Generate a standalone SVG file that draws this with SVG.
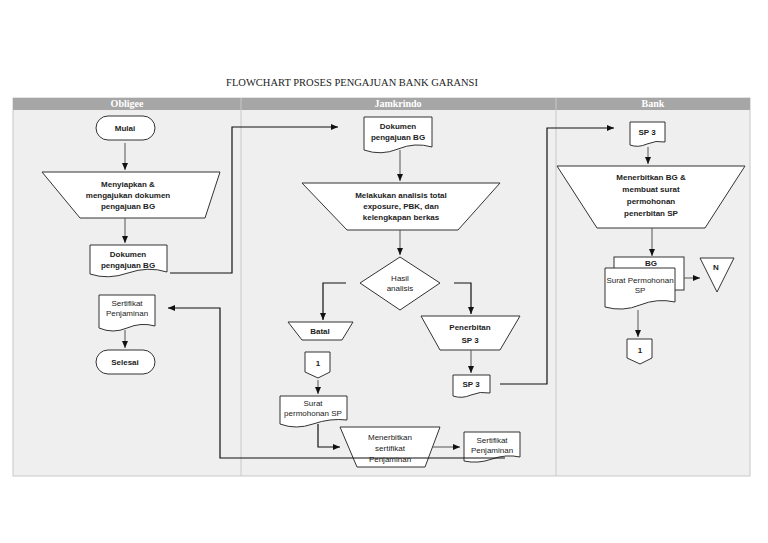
<svg xmlns="http://www.w3.org/2000/svg" width="768" height="543" viewBox="0 0 768 543">
<style>
.s{fill:#fff;stroke:#333;stroke-width:1}
.t{font-family:"Liberation Sans",Arial,sans-serif;font-size:8px;fill:#222;text-anchor:middle}
.b{font-weight:bold}
.h{font-family:"Liberation Serif",serif;font-size:10px;font-weight:bold;fill:#fff;text-anchor:middle}
.c{fill:none;stroke:#111;stroke-width:1.2}
.g{fill:none;stroke:#555;stroke-width:1}
</style>
<defs><marker id="a" markerWidth="8" markerHeight="8" refX="7" refY="4" orient="auto" markerUnits="userSpaceOnUse"><path d="M0,1L7,4L0,7z" fill="#111"/></marker></defs>
<rect width="768" height="543" fill="#fff"/>
<text x="352" y="86" font-family="Liberation Serif,serif" font-size="10.5" text-anchor="middle" fill="#222">FLOWCHART PROSES PENGAJUAN BANK GARANSI</text>
<rect x="13" y="98" width="737" height="378" fill="#efefef" stroke="#c8c8c8"/>
<rect x="13" y="98" width="737" height="12" fill="#a6a6a6"/>
<line x1="241" y1="98" x2="241" y2="476" stroke="#c8c8c8"/>
<line x1="556" y1="98" x2="556" y2="476" stroke="#c8c8c8"/>
<text class="h" x="127" y="107">Obligee</text>
<text class="h" x="398" y="107">Jamkrindo</text>
<text class="h" x="653" y="107">Bank</text>
<g id="mulai"><rect class="s" x="96" y="116" width="59" height="24" rx="12"/><text class="t b" x="125" y="131">Mulai</text></g>
<g id="menyiapkan"><path class="s" d="M42,172H220L205,218H80Z"/><text class="t b" x="128" y="187">Menyiapkan &amp;</text><text class="t b" x="128" y="198">mengajukan dokumen</text><text class="t b" x="128" y="209">pengajuan BG</text></g>
<g id="dok1"><path class="s" d="M90,245H167V272Q148,266 128,273T90,274Z"/><text class="t b" x="128" y="257">Dokumen</text><text class="t b" x="128" y="268">pengajuan BG</text></g>
<g id="sert1"><path class="s" d="M99,295H155V326Q141,322 127,328T99,328Z"/><text class="t" x="127" y="306" font-size="7">Sertifikat</text><text class="t" x="127" y="316" font-size="7">Penjaminan</text></g>
<g id="selesai"><rect class="s" x="96" y="350" width="59" height="24" rx="12"/><text class="t b" x="125" y="365">Selesai</text></g>
<g id="dok2"><path class="s" d="M364,117H432V147Q415,142 398,149T364,150Z"/><text class="t b" x="398" y="129">Dokumen</text><text class="t b" x="398" y="140">pengajuan BG</text></g>
<g id="analisis"><path class="s" d="M302,183H500L458,230H347Z"/><text class="t b" x="401" y="198">Melakukan analisis total</text><text class="t b" x="401" y="209">exposure, PBK, dan</text><text class="t b" x="401" y="220">kelengkapan berkas</text></g>
<g id="hasil"><path class="s" d="M360,283L400,257L440,283L400,310Z"/><text class="t" x="400" y="281" font-size="7">Hasil</text><text class="t" x="400" y="291" font-size="7">analisis</text></g>
<g id="batal"><path class="s" d="M288,322H353L342,340H302Z"/><text class="t b" x="320" y="334">Batal</text></g>
<g id="penerbitan"><path class="s" d="M421,316H520L500,350H440Z"/><text class="t b" x="470" y="330" font-size="9">Penerbitan</text><text class="t b" x="470" y="343" font-size="9">SP 3</text></g>
<g id="sp3a"><path class="s" d="M453,375H490V393Q480,391 471,395T453,396Z"/><text class="t b" x="471" y="387">SP 3</text></g>
<g id="c1a"><path class="s" d="M305,352H330V372L318,378L305,372Z"/><text class="t b" x="318" y="366">1</text></g>
<g id="surat"><path class="s" d="M280,396H347V420Q330,418 313,424T280,424Z"/><text class="t" x="313" y="406" font-size="7">Surat</text><text class="t" x="313" y="416" font-size="7">permohonan SP</text></g>
<g id="menerbitkan"><path class="s" d="M340,427H440L425,467H357Z"/><text class="t" x="390" y="440" font-size="7.5">Menerbitkan</text><text class="t" x="390" y="451" font-size="7.5">sertifikat</text><text class="t" x="390" y="462" font-size="7.5">Penjaminan</text></g>
<g id="sert2"><path class="s" d="M464,432H520V457Q506,454 492,459T464,461Z"/><text class="t" x="492" y="443" font-size="7">Sertifikat</text><text class="t" x="492" y="453" font-size="7">Penjaminan</text></g>
<g id="sp3b"><path class="s" d="M630,122H665V142Q656,140 647,144T630,145Z"/><text class="t b" x="647" y="135">SP 3</text></g>
<g id="bankproc"><path class="s" d="M557,166H745L705,228H597Z"/><text class="t b" x="651" y="180">Menerbitkan BG &amp;</text><text class="t b" x="651" y="192">membuat surat</text><text class="t b" x="651" y="204">permohonan</text><text class="t b" x="651" y="216">penerbitan SP</text></g>
<g id="bgdocs"><rect class="s" x="614" y="257" width="70" height="33"/><text class="t b" x="651" y="266">BG</text><path class="s" d="M605,268H675V302Q657,298 640,305T605,307Z"/><text class="t" x="640" y="283" font-size="6.5">Surat Permohonan</text><text class="t" x="640" y="293" font-size="6.5">SP</text></g>
<g id="n"><path class="s" d="M700,258H734L717,292Z"/><text class="t b" x="716" y="270">N</text></g>
<g id="c1b"><path class="s" d="M627,339H652V358L640,364L627,358Z"/><text class="t b" x="640" y="353">1</text></g>
<g id="connectors">
<path class="g" d="M125,143V170" marker-end="url(#a)"/>
<path class="g" d="M125,218V243" marker-end="url(#a)"/>
<path class="c" d="M170,273H232V127H338" marker-end="url(#a)"/>
<path class="g" d="M400,150V181" marker-end="url(#a)"/>
<path class="g" d="M400,230V255" marker-end="url(#a)"/>
<path class="c" d="M346,283H323V320" marker-end="url(#a)"/>
<path class="c" d="M454,283H471V314" marker-end="url(#a)"/>
<path class="g" d="M471,350V373" marker-end="url(#a)"/>
<path class="c" d="M500,384H547V128H614" marker-end="url(#a)"/>
<path class="g" d="M318,380V394" marker-end="url(#a)"/>
<path class="c" d="M318,424V447H340" marker-end="url(#a)"/>
<path class="g" d="M432,447H460" marker-end="url(#a)"/>
<path class="c" d="M505,458H220V308H168" marker-end="url(#a)"/>
<path class="g" d="M125,330V348" marker-end="url(#a)"/>
<path class="g" d="M648,147V164" marker-end="url(#a)"/>
<path class="g" d="M652,228V256" marker-end="url(#a)"/>
<path class="g" d="M684,278H700" marker-end="url(#a)"/>
<path class="g" d="M638,310V337" marker-end="url(#a)"/>
</g>
</svg>
